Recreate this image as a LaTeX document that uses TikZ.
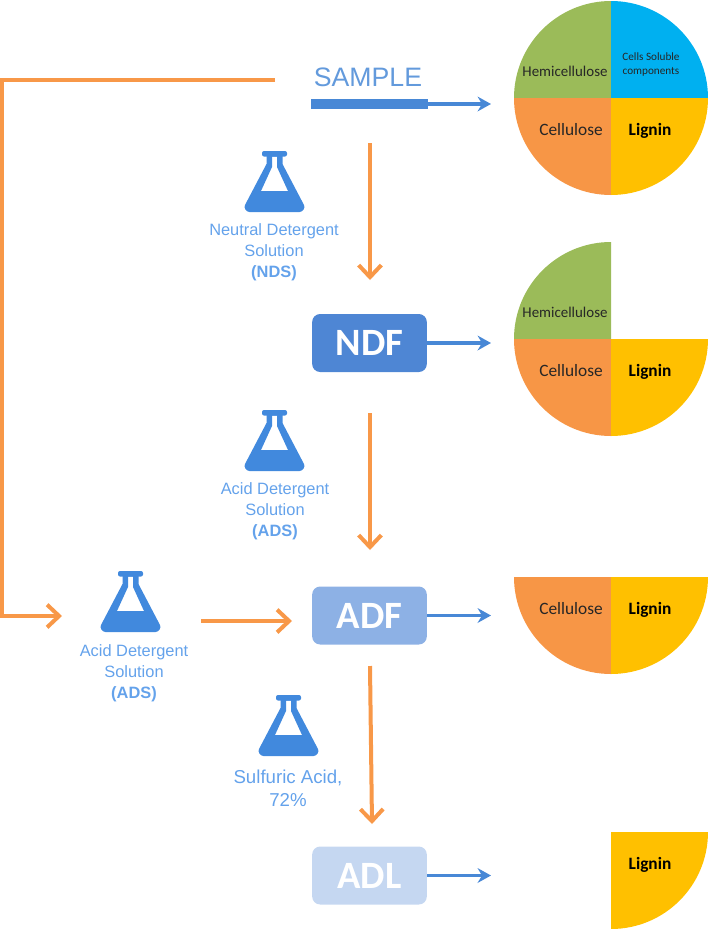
\documentclass[tikz,border=0pt]{standalone}
\usepackage{fontspec}
\setmainfont{Liberation Sans}
\newfontfamily\piefont{Carlito}
\usetikzlibrary{arrows.meta}
\definecolor{flaskblue}{RGB}{65, 137, 221}
\definecolor{textblue}{RGB}{100, 162, 235}
\definecolor{flowblue}{RGB}{72, 136, 214}
\definecolor{floworange}{RGB}{248, 152, 72}
\definecolor{ndfblue}{RGB}{78, 134, 212}
\definecolor{adfblue}{RGB}{141, 177, 229}
\definecolor{adlblue}{RGB}{197, 215, 241}
\definecolor{hemigreen}{RGB}{155, 187, 89}
\definecolor{cellscyan}{RGB}{0, 176, 240}
\definecolor{celluorange}{RGB}{247, 150, 70}
\definecolor{ligninyellow}{RGB}{255, 192, 0}
\newcommand{\piepart}[4]{\fill[#4] (#1) -- +(#2:72.75pt) arc[start angle=#2,end angle=#3,radius=72.75pt] -- cycle;}

\begin{document}
\begin{tikzpicture}[
        x=0.75pt,
        y=-0.75pt,
        stage/.style={rounded corners=6pt, minimum width=86pt, minimum height=43.5pt, text=white,
            font=\piefont\bfseries\fontsize{29}{29}\selectfont},
        reagent/.style={align=center, text=textblue, font=\fontsize{12.3}{15.75}\selectfont},
        pielabel/.style={text=black!85, font=\piefont\fontsize{11.2}{13}\selectfont},
        celllabel/.style={text=black!85, font=\piefont\fontsize{13}{15}\selectfont},
        pielignin/.style={text=black, font=\piefont\bfseries\fontsize{13}{15}\selectfont},
        blueflow/.style={draw=flowblue, line width=2.4pt, -{Stealth[length=10pt,width=11pt]}},
        orangeflow/.style={draw=floworange, line width=3pt, -{Straight Barb[length=9pt,width=17pt,line width=3pt]}},
        flask/.pic={
            \fill[flaskblue, rounded corners=1.5pt] (-12.5,0) rectangle (12.5,5.5);
            \fill[flaskblue, even odd rule]
                (-8,3) -- (-8,13) -- (-29.5,54) to[out=240,in=180] (-25,61) -- (25,61) to[out=0,in=300] (29.5,54) -- (8,13) -- (8,3) -- cycle
                (-2.5,5.5) -- (-2.5,16) -- (-13.5,40) -- (13.5,40) -- (2.5,16) -- (2.5,5.5) -- cycle;
        }
    ]
    \useasboundingbox (0,0) rectangle (708,929);

    % pies
    \coordinate (pieone) at (611,98);
    \coordinate (pietwo) at (611,339);
    \coordinate (piethree) at (611,577);
    \coordinate (piefour) at (611,832);
    \piepart{pieone}{90}{180}{hemigreen}
    \piepart{pieone}{0}{90}{cellscyan}
    \piepart{pieone}{180}{270}{celluorange}
    \piepart{pieone}{270}{360}{ligninyellow}
    \piepart{pietwo}{90}{180}{hemigreen}
    \piepart{pietwo}{180}{270}{celluorange}
    \piepart{pietwo}{270}{360}{ligninyellow}
    \piepart{piethree}{180}{270}{celluorange}
    \piepart{piethree}{270}{360}{ligninyellow}
    \piepart{piefour}{270}{360}{ligninyellow}

    \node[pielabel] (hemione) at (565,71) {Hemicellulose};
    \node[align=center, text=black!85, font=\piefont\fontsize{8.4}{10.5}\selectfont] (cellsone) at (651,65) {Cells Soluble\\components};
    \node[celllabel] (celluone) at (571,130) {Cellulose};
    \node[pielignin] (ligninone) at (650,131) {Lignin};
    \node[pielabel] (hemitwo) at (565,312) {Hemicellulose};
    \node[celllabel] (cellutwo) at (571,371) {Cellulose};
    \node[pielignin] (lignintwo) at (650,372) {Lignin};
    \node[celllabel] (celluthree) at (571,609) {Cellulose};
    \node[pielignin] (ligninthree) at (650,610) {Lignin};
    \node[pielignin] (ligninfour) at (650,865) {Lignin};

    % stages
    \node[text=flowblue!85!white, font=\fontsize{20}{20}\selectfont] (sample) at (368,77) {SAMPLE};
    \node[fill=flowblue, minimum width=88pt, minimum height=7.5pt, inner sep=0pt] (samplebar) at (369.5,104) {};
    \node[stage, fill=ndfblue] (ndf) at (369.5,343) {NDF};
    \node[stage, fill=adfblue] (adf) at (369.5,615.5) {ADF};
    \node[stage, fill=adlblue] (adl) at (369.5,875.5) {ADL};

    % reagents
    \pic at (274.5,151) {flask};
    \pic at (274.5,410) {flask};
    \pic at (130.5,571) {flask};
    \pic at (288.5,695) {flask};
    \node[reagent] (nds) at (274,252) {Neutral Detergent\\Solution\\\textbf{(NDS)}};
    \node[reagent] (ads) at (275,511) {Acid Detergent\\Solution\\\textbf{(ADS)}};
    \node[reagent] (adsleft) at (134,673) {Acid Detergent\\Solution\\\textbf{(ADS)}};
    \node[reagent, font=\fontsize{14}{17.25}\selectfont] (acid) at (288,788) {Sulfuric Acid,\\72\%};

    % free ends
    \coordinate (sampleleft) at (275,80);
    \coordinate (cornertop) at (2,80);
    \coordinate (cornerbottom) at (2,616);
    \coordinate (flasktarget) at (62,616);
    \coordinate (flaskright) at (201,621);
    \coordinate (adfleft) at (292,621);
    \coordinate (downonestart) at (370,143);
    \coordinate (downoneend) at (370,280);
    \coordinate (downtwostart) at (370,413);
    \coordinate (downtwoend) at (370,550);
    \coordinate (downthreestart) at (370,666);
    \coordinate (downthreeend) at (372,824);
    \coordinate (pieonein) at (491,104);
    \coordinate (pietwoin) at (491,343);
    \coordinate (piethreein) at (491,615.5);
    \coordinate (piefourin) at (491,875.5);

    % connectors
    \draw[blueflow] (samplebar.east) -- (pieonein);
    \draw[blueflow] (ndf.east) -- (pietwoin);
    \draw[blueflow] (adf.east) -- (piethreein);
    \draw[blueflow] (adl.east) -- (piefourin);
    \draw[orangeflow] (sampleleft) -- (cornertop) -- (cornerbottom) -- (flasktarget);
    \draw[orangeflow] (flaskright) -- (adfleft);
    \draw[orangeflow] (downonestart) -- (downoneend);
    \draw[orangeflow] (downtwostart) -- (downtwoend);
    \draw[orangeflow] (downthreestart) -- (downthreeend);
\end{tikzpicture}
\end{document}
